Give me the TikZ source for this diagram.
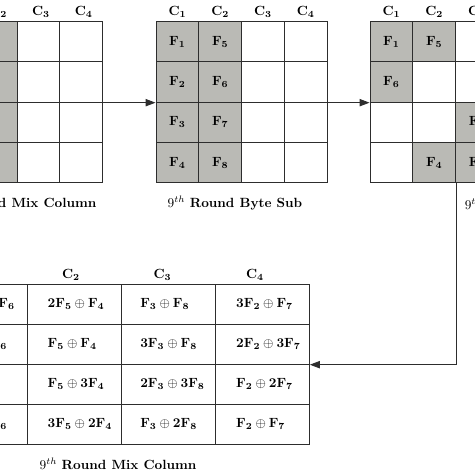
\documentclass[tikz,border=0pt]{standalone}
\usetikzlibrary{arrows.meta}
\definecolor{cellgray}{RGB}{186,186,181}
\definecolor{linec}{RGB}{45,45,45}
\tikzset{
  cell/.style={draw=linec, line width=0.7pt, minimum width=32.1pt, minimum height=30.19pt, inner sep=0pt},
  on/.style={fill=cellgray},
  bcell/.style={draw=linec, line width=0.7pt, minimum width=70.4pt, minimum height=30.1pt, inner xsep=#1, inner ysep=0pt, text width=70.4pt-2*#1, align=left},
  hdr/.style={inner sep=0pt},
  lbl/.style={inner sep=0pt},
  conn/.style={draw=linec, line width=0.7pt, -{Triangle[length=7.5pt,width=5.5pt]}}
}
\begin{document}
\begin{tikzpicture}[x=0.75pt,y=-0.75pt]
\useasboundingbox (0,0) rectangle (474,474);
% top grids: white cells
\foreach \g/\r/\c in {1/1/3,1/1/4,1/2/3,1/2/4,1/3/3,1/3/4,1/4/3,1/4/4,
                      2/1/3,2/1/4,2/2/3,2/2/4,2/3/3,2/3/4,2/4/3,2/4/4,
                      3/1/3,3/1/4,3/2/2,3/2/3,3/3/1,3/3/2,3/4/1,3/4/4}{
  \pgfmathsetmacro\xx{(\g==1)*(-68.5)+(\g==2)*156+(\g==3)*370+42.8*(\c-0.5)}
  \pgfmathsetmacro\yy{21.7+40.25*(\r-0.5)}
  \node[cell] (g\g-\r-\c) at (\xx,\yy) {};
}
% top grids: grey cells
\foreach \g/\r/\c/\t in {1/1/1/{},1/1/2/{},1/2/1/{},1/2/2/{},1/3/1/{},1/3/2/{},1/4/1/{},1/4/2/{},
                         2/1/1/1,2/1/2/5,2/2/1/2,2/2/2/6,2/3/1/3,2/3/2/7,2/4/1/4,2/4/2/8,
                         3/1/1/1,3/1/2/5,3/2/1/6,3/2/4/2,3/3/3/3,3/3/4/7,3/4/2/4,3/4/3/8}{
  \pgfmathsetmacro\xx{(\g==1)*(-68.5)+(\g==2)*156+(\g==3)*370+42.8*(\c-0.5)}
  \pgfmathsetmacro\yy{21.7+40.25*(\r-0.5)}
  \node[cell,on] (g\g-\r-\c) at (\xx,\yy) {\if\relax\detokenize\expandafter{\t}\relax\else$\mathbf{F_{\t}}$\fi};
}
% top headers
\foreach \g/\c in {1/1,1/2,1/3,1/4,2/1,2/2,2/3,2/4,3/1,3/2,3/3,3/4}{
  \pgfmathsetmacro\xx{(\g==1)*(-66)+(\g==2)*156+(\g==3)*370+42.8*(\c-0.5)}
  \node[hdr] (h\g-\c) at (\xx,12) {$\mathbf{C_{\c}}$};
}
% top labels
\node[lbl, anchor=base east] (lab1) at (96.7,207.5) {$9^{th}$ \textbf{Round Mix Column}};
\node[lbl, anchor=base] (lab2) at (235,207.5) {$9^{th}$ \textbf{Round Byte Sub}};
\node[lbl, anchor=base west] (lab3) at (464.5,209) {$9^{th}$ \textbf{Round Shift Row}};
% bottom grid
\foreach \r/\c/\p/\t in {1/1/12.5pt/{2F_1\oplus 3F_6},2/1/12.5pt/{F_1\oplus 2F_6},3/1/12.5pt/{F_1\oplus F_6},4/1/12.5pt/{3F_1\oplus F_6},
                      1/2/15pt/{2F_5\oplus F_4},2/2/15pt/{F_5\oplus F_4},3/2/15pt/{F_5\oplus 3F_4},4/2/15pt/{3F_5\oplus 2F_4},
                      1/3/14pt/{F_3\oplus F_8},2/3/14pt/{3F_3\oplus F_8},3/3/14pt/{2F_3\oplus 3F_8},4/3/14pt/{F_3\oplus 2F_8},
                      1/4/15.5pt/{3F_2\oplus F_7},2/4/15.5pt/{2F_2\oplus 3F_7},3/4/15.5pt/{F_2\oplus 2F_7},4/4/15.5pt/{F_2\oplus F_7}}{
  \pgfmathsetmacro\xx{-66.2+93.9*(\c-0.5)}
  \pgfmathsetmacro\yy{284+40.1*(\r-0.5)}
  \node[bcell=\p] (b-\r-\c) at (\xx,\yy) {$\mathbf{\t}$};
}
\node[hdr] (bh1) at (-24,275) {$\mathbf{C_1}$};
\node[hdr] (bh2) at (71,275) {$\mathbf{C_2}$};
\node[hdr] (bh3) at (162.5,275) {$\mathbf{C_3}$};
\node[hdr] (bh4) at (255,275) {$\mathbf{C_4}$};
\node[lbl, anchor=base] (lab4) at (118,469.5) {$9^{th}$ \textbf{Round Mix Column}};
% connectors
\draw[conn] (g1-2-4.south east) -- (g2-2-1.south west);
\draw[conn] (g2-2-4.south east) -- (g3-2-1.south west);
\draw[conn] (g3-4-2.south east) |- (b-2-4.south east);
\end{tikzpicture}
\end{document}
